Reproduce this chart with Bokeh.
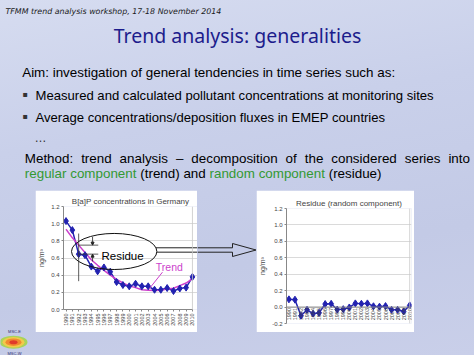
import numpy as np
from bokeh.plotting import figure
from bokeh.layouts import column, row
from bokeh.models import Range1d, FixedTicker, NumeralTickFormatter, Span, Arrow, NormalHead, Spacer
from bokeh.embed import file_html
from bokeh.resources import INLINE
from bokeh.core.properties import value

# ---------------- data ----------------
YEARS = list(range(1990, 2011))
YEAR_LABELS = [str(y) for y in YEARS]
BAP_CONC = [1.03, 0.925, 0.645, 0.633, 0.50, 0.445, 0.49, 0.44, 0.32, 0.285,
            0.27, 0.30, 0.27, 0.27, 0.23, 0.23, 0.25, 0.215, 0.245, 0.255, 0.38]
TREND = [0.935, 0.835, 0.75, 0.665, 0.58, 0.515, 0.455, 0.40, 0.35, 0.31,
         0.275, 0.255, 0.23, 0.225, 0.22, 0.225, 0.238, 0.248, 0.278, 0.308, 0.36]
RESIDUE = [0.094, 0.09, -0.106, -0.033, -0.08, -0.07, 0.037, 0.04, -0.03, -0.025,
           -0.005, 0.045, 0.04, 0.045, 0.01, 0.005, 0.012, -0.033, -0.033, -0.053, 0.02]
LEFT_Y_TICKS = [0.0, 0.2, 0.4, 0.6, 0.8, 1.0, 1.2]
RIGHT_Y_TICKS = [-0.2, 0.0, 0.2, 0.4, 0.6, 0.8, 1.0, 1.2]

HEADER = "TFMM trend analysis workshop, 17-18 November 2014"
TITLE = "Trend analysis: generalities"
AIM = "Aim: investigation of general tendencies in time series such as:"
BULLETS = ["Measured and calculated pollutant concentrations at monitoring sites",
           "Average concentrations/deposition fluxes in EMEP countries"]
METHOD = "Method: trend analysis \u2013 decomposition of the considered series into"
METHOD2 = [("regular component", "#339933"), ("(trend) and", "black"),
           ("random component", "#339933"), ("(residue)", "black")]
LEFT_TITLE = "B[a]P concentrations in Germany"
RIGHT_TITLE = "Residue (random component)"
UNIT = "ng/m\u00b3"

# ---------------- styling ----------------
BLUE = "#2222b0"
MAGENTA = "#cc3fcc"
NAVY = "#1c1c8c"
ARIAL = value("Liberation Sans")
W = 474
HEAD_H = 190
ROW_H = 165
BODY_PX = 13.4

# Arial / Liberation Sans advance widths (per 1000 em) for laying out words
ARIAL_W = {' ': 278, '(': 333, ')': 333, ':': 278, '\u2013': 556, 'M': 833,
           'a': 556, 'c': 500, 'd': 556, 'e': 556, 'f': 278, 'g': 556, 'h': 556,
           'i': 222, 'l': 222, 'm': 833, 'n': 556, 'o': 556, 'p': 556, 'r': 333,
           's': 500, 't': 278, 'u': 556, 'v': 500, 'y': 500}


def text_w(s, px):
    return sum(ARIAL_W.get(ch, 556) for ch in s) / 1000.0 * px


def bare(width, height, xr, yr):
    f = figure(width=width, height=height, x_range=xr, y_range=yr,
               toolbar_location=None, output_backend="svg",
               x_axis_type=None, y_axis_type=None, min_border=0)
    f.grid.visible = False
    f.outline_line_color = None
    f.border_fill_alpha = 0
    f.background_fill_alpha = 0
    return f


# ---------------- header ----------------
head = bare(W, HEAD_H, Range1d(0, W), Range1d(HEAD_H, 0))
head.text(x=[5], y=[11], text=[HEADER], text_font=value("DejaVu Sans"),
          text_font_style="italic", text_font_size="7.9px", text_color="#1a1a1a",
          text_baseline="alphabetic")
head.text(x=[W / 2], y=[35], text=[TITLE], text_font=value("Noto Sans"),
          text_font_size="19.5px", text_color=NAVY, text_align="center",
          text_baseline="alphabetic")
head.text(x=[21.7], y=[72.4], text=[AIM], text_font=ARIAL, text_font_size="13.4px",
          text_color="black", text_baseline="alphabetic")
head.text(x=[21.8, 21.8], y=[94, 116.4], text=["\u25aa", "\u25aa"],
          text_font=value("DejaVu Sans"), text_font_size="8px", text_color="#333333",
          text_baseline="alphabetic")
head.text(x=[35, 35], y=[95, 117.4], text=BULLETS, text_font=ARIAL,
          text_font_size="13.1px", text_color="black", text_baseline="alphabetic")
head.text(x=[34], y=[137], text=["\u2026"], text_font=ARIAL, text_font_size="12px",
          text_color="#333333", text_baseline="alphabetic")

# justified first line of the "Method" paragraph
words = METHOD.split(" ")
LINE_X0, LINE_X1 = 24.3, 469.5
ww = [text_w(w_, BODY_PX) for w_ in words]
gap = (LINE_X1 - LINE_X0 - sum(ww)) / (len(words) - 1)
xs, cur = [], LINE_X0
for w_ in ww:
    xs.append(cur)
    cur += w_ + gap
head.text(x=xs, y=[157.8] * len(words), text=words, text_font=ARIAL,
          text_font_size=f"{BODY_PX}px", text_color="black", text_baseline="alphabetic")

cur = LINE_X0
space = text_w(" ", BODY_PX)
for t, c in METHOD2:
    head.text(x=[cur], y=[172.5], text=[t], text_font=ARIAL, text_font_size=f"{BODY_PX}px",
              text_color=c, text_baseline="alphabetic")
    cur += text_w(t, BODY_PX) + space


# ---------------- chart helper ----------------
def chart(width, height, xr, yr, title, ticks, mbl, mbr, mbt, mbb):
    p = figure(width=width, height=height, x_range=xr, y_range=yr, title=title,
               toolbar_location=None, output_backend="svg",
               min_border_left=mbl, min_border_right=mbr,
               min_border_top=mbt, min_border_bottom=mbb)
    p.border_fill_color = "white"
    p.background_fill_color = "white"
    p.outline_line_color = None
    p.title.text_font = "Liberation Sans"
    p.title.text_font_style = "normal"
    p.title.text_font_size = "8px"
    p.title.align = "center"
    p.title.standoff = 2
    p.title.offset = 0
    p.xgrid.visible = False
    p.ygrid.grid_line_color = "#d0d0d0"
    p.ygrid.grid_line_width = 0.8
    p.yaxis.ticker = FixedTicker(ticks=ticks)
    p.yaxis.formatter = NumeralTickFormatter(format="0.0")
    p.yaxis.axis_label = UNIT
    p.yaxis.axis_label_text_font = "Liberation Sans"
    p.yaxis.axis_label_text_font_style = "normal"
    p.yaxis.axis_label_text_font_size = "7px"
    p.yaxis.axis_label_standoff = 3
    p.yaxis.major_label_text_font = "Liberation Sans"
    p.yaxis.major_label_text_font_size = "6px"
    p.yaxis.major_label_text_color = "#444444"
    p.yaxis.major_label_standoff = 2
    p.yaxis.major_tick_out = 2
    p.yaxis.major_tick_in = 0
    p.yaxis.minor_tick_line_color = None
    p.yaxis.axis_line_color = "#888888"
    p.yaxis.major_tick_line_color = "#888888"
    p.add_layout(Span(location=2010, dimension="height", line_color="#c8c8c8", line_width=0.8))
    return p


# ---------------- left chart ----------------
left = chart(162, 142, Range1d(1989.6, 2010.8), Range1d(0, 1.2), LEFT_TITLE,
             LEFT_Y_TICKS, 27, 0, 16, 23)
left.xaxis.ticker = FixedTicker(ticks=YEARS)
left.xaxis.bounds = (1989.6, 2010)
left.xaxis.major_label_orientation = np.pi / 2
left.xaxis.major_label_text_font = "Liberation Sans"
left.xaxis.major_label_text_font_size = "5.5px"
left.xaxis.major_label_text_color = "#444444"
left.xaxis.major_label_standoff = 2
left.xaxis.major_tick_out = 2
left.xaxis.major_tick_in = 0
left.xaxis.minor_tick_line_color = None
left.xaxis.axis_line_color = "#888888"
left.xaxis.major_tick_line_color = "#888888"

left.line(YEARS, BAP_CONC, line_color=BLUE, line_width=1.5)
left.line(YEARS, TREND, line_color=MAGENTA, line_width=1.5)
left.scatter(YEARS, BAP_CONC, marker="diamond", size=7, fill_color=BLUE, line_color=BLUE)

# residue explanation annotations (positions in chart units)
EX_I = 2
ex_year = YEARS[EX_I]
left.segment(x0=[ex_year], y0=[0.33], x1=[ex_year], y1=[0.885], line_color="#333333", line_width=0.8)
left.segment(x0=[ex_year, ex_year], y0=[TREND[EX_I], BAP_CONC[EX_I]],
             x1=[1995.1, 1995.1], y1=[TREND[EX_I], BAP_CONC[EX_I]],
             line_color="#333333", line_width=0.8)
left.add_layout(Arrow(end=NormalHead(size=3, fill_color="#222222", line_color="#222222"),
                      x_start=1994.2, y_start=0.845, x_end=1994.2, y_end=TREND[EX_I],
                      line_color="#222222", line_width=0.8))
left.add_layout(Arrow(end=NormalHead(size=3, fill_color="#222222", line_color="#222222"),
                      x_start=1994.2, y_start=0.56, x_end=1994.2, y_end=BAP_CONC[EX_I],
                      line_color="#222222", line_width=0.8))

ELL_X, ELL_Y, ELL_W, ELL_H = 1997.62, 0.676, 13.5, 0.42
left.ellipse(x=[ELL_X], y=[ELL_Y], width=[ELL_W], height=[ELL_H],
             fill_color=None, line_color="#111111", line_width=1)
left.text(x=[1995.6], y=[0.629], text=["Residue"], text_font=ARIAL,
          text_font_size="11.5px", text_color="black", text_baseline="alphabetic")
# arrow shaft leaving the ellipse
SHAFT_Y = [0.719, 0.668]
for sy in SHAFT_Y:
    t = (sy - ELL_Y) / (ELL_H / 2)
    sx = ELL_X + (ELL_W / 2) * np.sqrt(max(0.0, 1 - t * t))
    left.segment(x0=[sx], y0=[sy], x1=[2013], y1=[sy], line_color="#222222", line_width=1)

left.text(x=[2004.2], y=[0.49], text=["Trend"], text_font=ARIAL,
          text_font_size="10.5px", text_color=MAGENTA, text_baseline="alphabetic")
left.segment(x0=[2005.26], y0=[0.435], x1=[2003.16], y1=[0.241],
             line_color=MAGENTA, line_width=1)

# ---------------- middle (arrow) ----------------
mid = bare(59, ROW_H, Range1d(0, 59), Range1d(ROW_H, 0))
mid.line(x=[0, 35, 35, 58.5, 35, 35, 0], y=[57.3, 57.3, 53, 59.5, 66, 61.7, 61.7],
         line_color="#222222", line_width=1)

# ---------------- right chart ----------------
right = chart(158, 142, Range1d(1989.6, 2010.3), Range1d(-0.2, 1.2), RIGHT_TITLE,
              RIGHT_Y_TICKS, 26, 3, 18, 9)
right.xaxis.visible = False
right.add_layout(Span(location=0, dimension="width", line_color="#888888", line_width=1))
right.line(YEARS, RESIDUE, line_color=BLUE, line_width=1.5)
right.scatter(YEARS, RESIDUE, marker="diamond", size=7, fill_color=BLUE, line_color=BLUE)
right.text(x=YEARS, y=[-0.012] * len(YEARS), text=YEAR_LABELS, angle=np.pi / 2,
           text_align="right", text_baseline="middle", text_font=ARIAL,
           text_font_size="5.5px", text_color="#444444")

# ---------------- logo ----------------
logo = bare(35, ROW_H, Range1d(0, 35), Range1d(ROW_H, 0))
for w_, h_, c_ in [(28, 13, "#a8d45a"), (22, 10.5, "#f2c94a"), (16, 7.5, "#f08a30"), (8, 4, "#e03a2a")]:
    logo.ellipse(x=[13], y=[151.7], width=[w_], height=[h_], fill_color=c_, line_color=None)
logo.text(x=[14, 14], y=[141, 162.5], text=["MSC-E", "MSC-W"], text_font=ARIAL,
          text_font_size="4px", text_color="#2a2a70", text_align="center", text_baseline="middle")

layout = column(
    head,
    row(logo, column(left, Spacer(width=162, height=ROW_H - 142)), mid,
        column(right, Spacer(width=158, height=ROW_H - 142)), Spacer(width=60, height=ROW_H)),
    styles={"background": "linear-gradient(170deg, #d6dcf0 0%, #c9d0ea 35%, #c3cae6 70%, #c9cfe9 100%)"},
)

open("out.html", "w").write(file_html(layout, INLINE))
